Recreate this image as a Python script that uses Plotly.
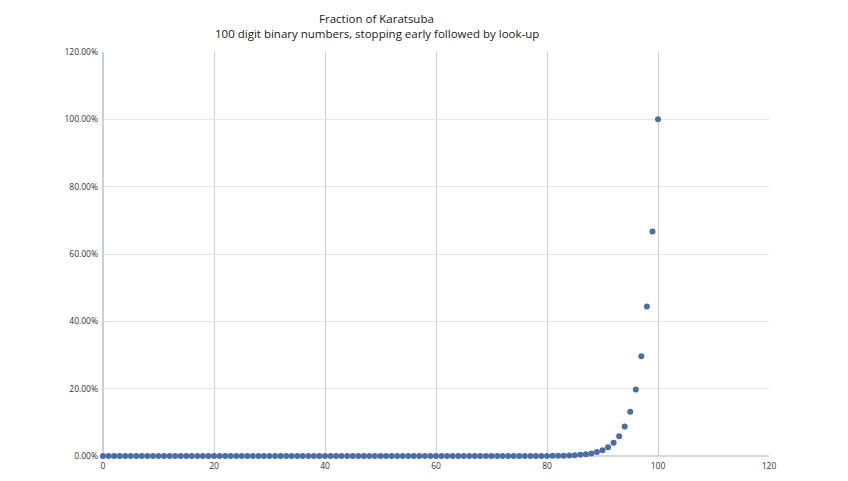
import plotly.graph_objects as go

# digits stopped early (x) vs fraction of Karatsuba work (%)
digits = list(range(0, 101))
fraction_pct = [
    0.0, 0.0, 0.0, 0.0, 0.0, 0.0, 0.0, 0.0, 0.0, 0.0,
    0.0, 0.0, 0.0, 0.0, 0.0, 0.0, 0.0, 0.0, 0.0, 0.0,
    0.0, 0.0, 0.0, 0.0, 0.0, 0.0, 0.0, 0.0, 0.0, 0.0,
    0.0, 0.0, 0.0, 0.0, 0.0, 0.0, 0.0, 0.0, 0.0, 0.0,
    0.0, 0.0, 0.0, 0.0, 0.0, 0.0, 0.0, 0.0, 0.0, 0.0,
    0.0, 0.0, 0.0, 0.0, 0.0, 0.0, 0.0, 0.0, 0.0, 0.0,
    0.0, 0.0, 0.0, 0.0, 0.0, 0.0, 0.0, 0.0, 0.0, 0.0,
    0.0, 0.0, 0.0, 0.0, 0.0, 0.0, 0.0, 0.01, 0.01, 0.02,
    0.03, 0.05, 0.07, 0.10, 0.15, 0.23, 0.34, 0.51, 0.77, 1.16,
    1.73, 2.60, 3.90, 5.85, 8.78, 13.17, 19.75, 29.63, 44.44, 66.67,
    100.0,
]
x_ticks = [0, 20, 40, 60, 80, 100, 120]
y_ticks = [0, 20, 40, 60, 80, 100, 120]
y_labels = ['0.00%', '20.00%', '40.00%', '60.00%', '80.00%', '100.00%', '120.00%']

title_lines = ["Fraction of Karatsuba",
               "100 digit binary numbers, stopping early followed by look-up"]

fig = go.Figure()
fig.add_trace(go.Scatter(
    x=digits,
    y=fraction_pct,
    mode='markers',
    marker=dict(size=6, color='#4a6ea9'),
    showlegend=False,
    cliponaxis=False,
))

# page body adds 8px, so margins are shifted to land the plot where the reference has it
fig.update_layout(
    width=848,
    height=481,
    paper_bgcolor='white',
    plot_bgcolor='white',
    margin=dict(l=95, r=87, t=44, b=33, autoexpand=False),
    font=dict(family='Open Sans, sans-serif', color='#404040'),
)
for line, shift in zip(title_lines, [34, 19]):
    fig.add_annotation(
        text=line,
        xref='paper', yref='paper',
        x=0.411, y=1, yshift=shift,
        xanchor='center', yanchor='middle',
        showarrow=False,
        font=dict(size=11.5, color='#1a1a1a'),
    )
fig.update_xaxes(
    range=[0, 120],
    tickvals=x_ticks,
    showgrid=True,
    gridcolor='#cfcfcf',
    gridwidth=1,
    zeroline=True,
    zerolinecolor='#cfcfcf',
    showline=False,
    ticks='',
    ticklabelstandoff=3,
    automargin=False,
    tickfont=dict(size=8.5, color='#333333'),
)
fig.update_yaxes(
    range=[0, 120],
    tickvals=y_ticks,
    ticktext=y_labels,
    showgrid=True,
    gridcolor='#e6e6e6',
    gridwidth=1,
    zeroline=True,
    zerolinecolor='#d9d9d9',
    showline=False,
    ticks='',
    ticklabelstandoff=4,
    automargin=False,
    tickfont=dict(size=8.5, color='#333333'),
)

fig.write_html("out.html")
